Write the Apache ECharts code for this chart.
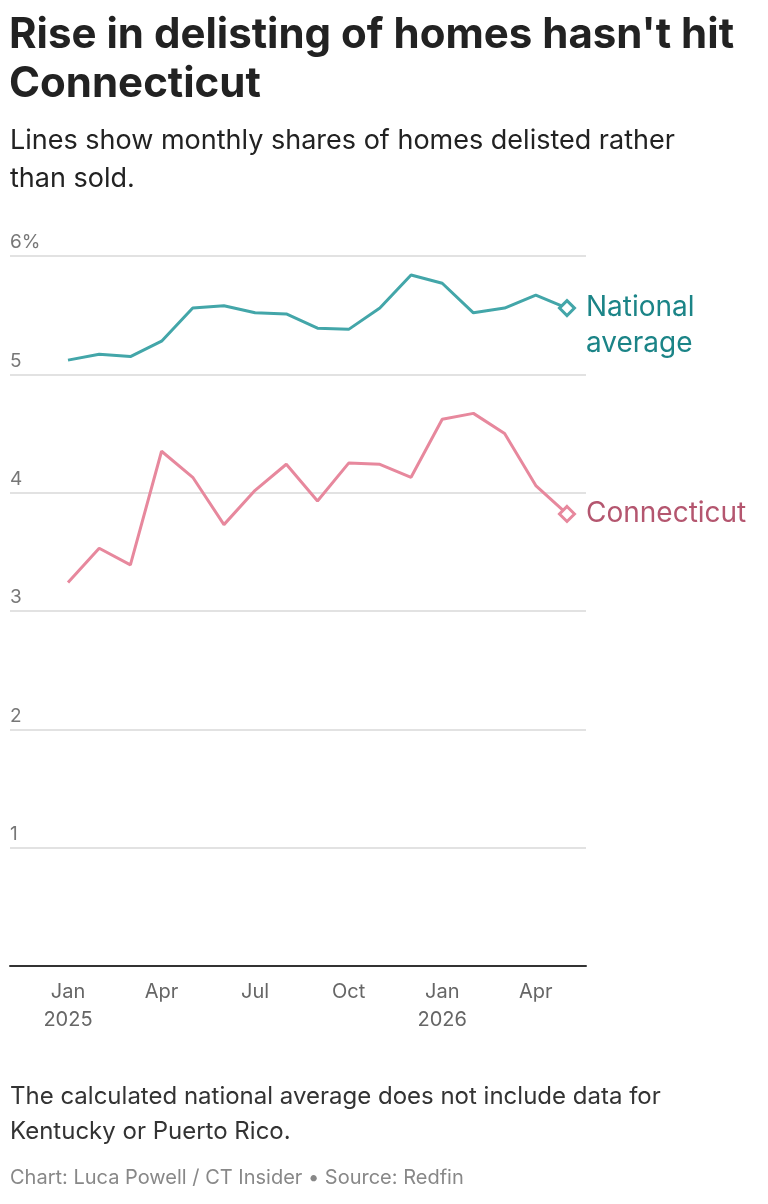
<!DOCTYPE html>
<html>
<head>
<meta charset="utf-8">
<script src="https://cdn.jsdelivr.net/npm/echarts@6/dist/echarts.min.js"></script>
<style>
  html, body { margin: 0; padding: 0; background: #fff; }
  #chart { width: 768px; height: 1204px; }
</style>
</head>
<body>
<div id="chart"></div>
<script>
// months Jan 2025 .. May 2026
var months = ["Jan 2025", "Feb 2025", "Mar 2025", "Apr 2025", "May 2025", "Jun 2025",
  "Jul 2025", "Aug 2025", "Sep 2025", "Oct 2025", "Nov 2025", "Dec 2025",
  "Jan 2026", "Feb 2026", "Mar 2026", "Apr 2026", "May 2026"];
var nationalAvg = [5.12, 5.17, 5.15, 5.28, 5.56, 5.58, 5.52, 5.51, 5.39, 5.38, 5.56, 5.84,
  5.77, 5.52, 5.56, 5.67, 5.56];
var connecticut = [3.24, 3.53, 3.39, 4.35, 4.13, 3.73, 4.02, 4.24, 3.93, 4.25, 4.24, 4.13,
  4.62, 4.67, 4.50, 4.06, 3.82];
var xTickIdx = [0, 3, 6, 9, 12, 15];
var xTickLabels = ["Jan\n2025", "Apr", "Jul", "Oct", "Jan\n2026", "Apr"];

var FONT = "Inter, Roboto, sans-serif";
var TEAL = "#43a6a9", TEAL_TXT = "#1b8487";
var PINK = "#e7889d", PINK_TXT = "#b4566f";

function toPairs(arr) {
  return arr.map(function (v, i) { return [i, v]; });
}

function isLast(i, arr) {
  return i === arr.length - 1;
}

var myChart = echarts.init(document.getElementById("chart"));
var option = {
  animation: false,
  title: [
    {
      text: "Rise in delisting of homes hasn't hit\nConnecticut",
      left: 9, top: 11, padding: 0,
      textStyle: { fontFamily: FONT, fontSize: 42, fontWeight: "bold", color: "#222", lineHeight: 49 }
    },
    {
      text: "Lines show monthly shares of homes delisted rather\nthan sold.",
      left: 10, top: 122, padding: 0,
      textStyle: { fontFamily: FONT, fontSize: 27, fontWeight: "normal", color: "#222", lineHeight: 38 }
    },
    {
      text: "The calculated national average does not include data for\nKentucky or Puerto Rico.",
      left: 10, top: 1079, padding: 0,
      textStyle: { fontFamily: FONT, fontSize: 24, fontWeight: "normal", color: "#333", lineHeight: 35 }
    },
    {
      text: "Chart: Luca Powell / CT Insider \u2022 Source: Redfin",
      left: 10, top: 1168, padding: 0,
      textStyle: { fontFamily: FONT, fontSize: 20, fontWeight: "normal", color: "#888" }
    }
  ],
  grid: { left: 10, right: 182, top: 256, bottom: 238, containLabel: false },
  xAxis: {
    type: "value",
    min: -1.86,
    max: 16.61,
    axisLine: { show: true, onZero: false, lineStyle: { color: "#333", width: 2 } },
    axisTick: { show: false },
    splitLine: { show: false },
    axisLabel: {
      customValues: xTickIdx,
      formatter: function (v) {
        var k = xTickIdx.indexOf(Math.round(v));
        return k >= 0 ? xTickLabels[k] : "";
      },
      color: "#666",
      fontFamily: FONT,
      fontSize: 20,
      lineHeight: 28,
      margin: 12
    }
  },
  yAxis: {
    type: "value",
    min: 0,
    max: 6,
    interval: 1,
    axisLine: { show: false },
    axisTick: { show: false },
    splitLine: { show: true, lineStyle: { color: "#e2e2e2", width: 2 } },
    axisLabel: {
      inside: true,
      margin: 0,
      verticalAlign: "bottom",
      padding: [0, 0, 4, 0],
      color: "#777",
      fontFamily: FONT,
      fontSize: 19,
      formatter: function (v) {
        if (v === 0) return "";
        if (v === 6) return "6%";
        return String(v);
      }
    }
  },
  series: [
    {
      name: "National average",
      type: "line",
      data: toPairs(nationalAvg),
      lineStyle: { color: TEAL, width: 3 },
      itemStyle: { color: "#fff", borderColor: TEAL, borderWidth: 3 },
      symbol: "diamond",
      symbolSize: function (v, p) { return isLast(p.dataIndex, nationalAvg) ? 15 : 0; },
      label: {
        show: true,
        position: "right",
        distance: 10,
        offset: [0, 18],
        formatter: function (p) {
          return isLast(p.dataIndex, nationalAvg) ? "National\naverage" : "";
        },
        color: TEAL_TXT,
        fontFamily: FONT,
        fontSize: 28,
        lineHeight: 36
      },
      z: 3
    },
    {
      name: "Connecticut",
      type: "line",
      data: toPairs(connecticut),
      lineStyle: { color: PINK, width: 3 },
      itemStyle: { color: "#fff", borderColor: PINK, borderWidth: 3 },
      symbol: "diamond",
      symbolSize: function (v, p) { return isLast(p.dataIndex, connecticut) ? 15 : 0; },
      label: {
        show: true,
        position: "right",
        distance: 10,
        formatter: function (p) {
          return isLast(p.dataIndex, connecticut) ? "Connecticut" : "";
        },
        color: PINK_TXT,
        fontFamily: FONT,
        fontSize: 28
      },
      z: 3
    }
  ]
};
myChart.setOption(option);
</script>
</body>
</html>
